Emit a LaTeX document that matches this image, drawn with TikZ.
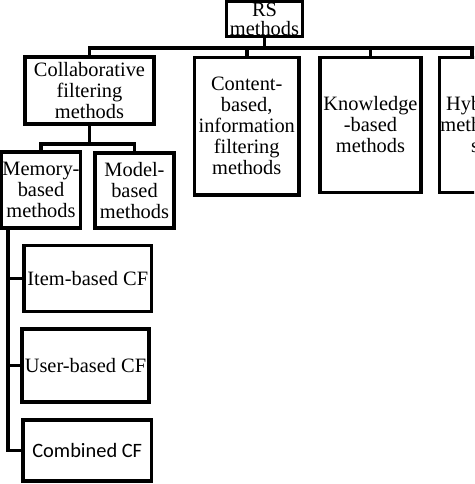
\documentclass[tikz,border=0pt]{standalone}
\usepackage{fontspec}
\setmainfont{Liberation Serif}
\newfontfamily\calib{Carlito}
\usetikzlibrary{calc}
\tikzset{
  box/.style={draw, line width=3.8pt, inner sep=0pt, align=center,
    font=\fontsize{20.4}{21}\selectfont},
  conn/.style={line width=3.8pt, line join=miter},
}
\begin{document}
\begin{tikzpicture}[x=1pt, y=-1pt]
\useasboundingbox (0,0) rectangle (474,484);
\clip (0,0) rectangle (474,484);
% top level
\node[box, minimum width=76pt, minimum height=35pt,
      font=\fontsize{20.4}{19}\selectfont] (rs) at (264.5,19) {RS\\methods};
\node[box, minimum width=129pt, minimum height=67.5pt] (col) at (89.5,90.5) {Collaborative\\filtering\\methods};
\node[box, minimum width=104.5pt, minimum height=137.5pt] (cont) at (246.75,126.25) {Content-\\based,\\information\\filtering\\methods};
\node[box, minimum width=101pt, minimum height=135pt] (know) at (370.5,125) {Knowledge\\-based\\methods};
\node[box, minimum width=71pt, minimum height=135pt] (hyb) at (475,125) {Hybrid\\methods\\s};
% second level
\node[box, minimum width=79pt, minimum height=76.5pt] (mem) at (41,190) {Memory-\\based\\methods};
\node[box, minimum width=79pt, minimum height=75pt] (mod) at (134.5,190.5) {Model-\\based\\methods};
% third level
\node[box, minimum width=127.5pt, minimum height=66pt] (item) at (87.75,278.5) {Item-based CF};
\node[box, minimum width=127pt, minimum height=73pt] (user) at (85.5,365.5) {User-based CF};
\node[box, minimum width=128.5pt, minimum height=61.5pt, font=\calib\fontsize{20.4}{21}\selectfont] (comb) at (87.25,450.5) {Combined CF};
% connectors
\coordinate (barR) at (480,48);
\coordinate (sub) at (0,144);
\coordinate (trunk) at (8,0);
\draw[conn] (col.north) |- (barR);
\draw[conn] (rs.south) -- (rs.south |- barR);
\draw[conn] (cont.north) -- (cont.north |- barR);
\draw[conn] (know.north) -- (know.north |- barR);
\draw[conn] ($(hyb.north)+(-3,0)$) -- ($(hyb.north |- barR)+(-3,0)$);
\draw[conn] (col.south) -- (col.south |- sub);
\draw[conn] (mem.north) |- (col.south |- sub) -| (mod.north);
\draw[conn] (mem.south -| trunk) |- (comb.west);
\draw[conn] (trunk |- item.west) -- (item.west);
\draw[conn] (trunk |- user.west) -- (user.west);
\end{tikzpicture}
\end{document}
